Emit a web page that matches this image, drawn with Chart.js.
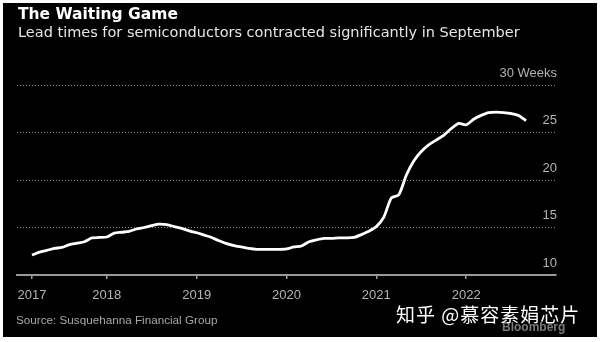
<!DOCTYPE html>
<html>
<head>
<meta charset="utf-8">
<script src="https://cdn.jsdelivr.net/npm/chart.js@4/dist/chart.umd.min.js"></script>
<style>
    html, body { margin: 0; padding: 0; background: #fff; }
</style>
</head>
<body>
<canvas id="leadCanvas" width="600" height="342"></canvas>
<script>
// Monthly observations, Mar 2017 - Sep 2022
const months = [
    'Mar 2017', 'Apr 2017', 'May 2017', 'Jun 2017', 'Jul 2017', 'Aug 2017', 'Sep 2017', 'Oct 2017', 'Nov 2017', 'Dec 2017',
    'Jan 2018', 'Feb 2018', 'Mar 2018', 'Apr 2018', 'May 2018', 'Jun 2018', 'Jul 2018', 'Aug 2018', 'Sep 2018', 'Oct 2018', 'Nov 2018', 'Dec 2018',
    'Jan 2019', 'Feb 2019', 'Mar 2019', 'Apr 2019', 'May 2019', 'Jun 2019', 'Jul 2019', 'Aug 2019', 'Sep 2019', 'Oct 2019', 'Nov 2019', 'Dec 2019',
    'Jan 2020', 'Feb 2020', 'Mar 2020', 'Apr 2020', 'May 2020', 'Jun 2020', 'Jul 2020', 'Aug 2020', 'Sep 2020', 'Oct 2020', 'Nov 2020', 'Dec 2020',
    'Jan 2021', 'Feb 2021', 'Mar 2021', 'Apr 2021', 'May 2021', 'Jun 2021', 'Jul 2021', 'Aug 2021', 'Sep 2021', 'Oct 2021', 'Nov 2021', 'Dec 2021',
    'Jan 2022', 'Feb 2022', 'Mar 2022', 'Apr 2022', 'May 2022', 'Jun 2022', 'Jul 2022', 'Aug 2022', 'Sep 2022'
];
// lead times in weeks
const leadTimes = [
    12.1, 12.4, 12.6, 12.8, 12.9, 13.2, 13.35, 13.5, 13.9, 13.95,
    14.0, 14.4, 14.5, 14.6, 14.85, 15.0, 15.2, 15.35, 15.3, 15.1, 14.9, 14.65,
    14.45, 14.2, 13.95, 13.6, 13.3, 13.1, 12.95, 12.8, 12.7, 12.7, 12.7, 12.7,
    12.75, 12.95, 13.05, 13.5, 13.7, 13.85, 13.85, 13.9, 13.9, 13.95, 14.25, 14.6,
    15.1, 16.1, 18.1, 18.45, 20.5, 22.0, 23.0, 23.7, 24.2, 24.7, 25.4, 25.95,
    25.8, 26.4, 26.8, 27.1, 27.15, 27.1, 27.0, 26.8, 26.25
];
// where the year ticks sit and what they read
const yearTickMonths = ['Mar 2017', 'Jan 2018', 'Jan 2019', 'Jan 2020', 'Jan 2021', 'Jan 2022'];
const yearLabels = ['2017', '2018', '2019', '2020', '2021', '2022'];
const weekTicks = [10, 15, 20, 25, 30];

const yearTickPos = yearTickMonths.map(m => months.indexOf(m));
const points = leadTimes.map((v, i) => ({ x: i, y: v }));

const axisFont = { family: 'Liberation Sans', size: 13 };

// black panel with white frame, plus the texts around the plot
const framePlugin = {
    id: 'frame',
    beforeDraw(chart) {
        const c = chart.ctx;
        c.save();
        c.fillStyle = '#fff';
        c.fillRect(0, 0, chart.width, chart.height);
        c.fillStyle = '#000';
        c.fillRect(3, 3, 594, 334);
        c.restore();
    },
    afterDraw(chart) {
        const c = chart.ctx;
        c.save();
        c.textBaseline = 'alphabetic';
        c.textAlign = 'left';
        c.fillStyle = '#fff';
        c.font = 'bold 15.5px "DejaVu Sans"';
        c.fillText('The Waiting Game', 18, 19);
        c.fillStyle = '#e6e6e6';
        c.font = '14.5px "DejaVu Sans"';
        c.fillText('Lead times for semiconductors contracted significantly in September', 18, 37);
        c.fillStyle = '#a8a8a8';
        c.font = '11.7px "Liberation Sans"';
        c.fillText('Source: Susquehanna Financial Group', 16, 324);
        // watermark
        c.fillStyle = '#7a7a7a';
        c.font = 'bold 12px "Liberation Sans"';
        c.fillText('Bloomberg', 502, 331);
        c.fillStyle = '#fff';
        c.font = '19px "Noto Sans CJK SC"';
        c.letterSpacing = '1px';
        c.fillText('知乎 @慕容素娟芯片', 396, 322);
        c.restore();
    }
};

const ctx = document.getElementById('leadCanvas').getContext('2d');
const leadChart = new Chart(ctx, {
    type: 'line',
    data: {
        datasets: [{
            label: 'Lead time (weeks)',
            data: points,
            borderColor: '#ffffff',
            borderWidth: 2.8,
            pointRadius: 0,
            tension: 0.25,
            fill: false
        }]
    },
    options: {
        responsive: false,
        animation: false,
        layout: { padding: { left: 17, right: 42, top: 85, bottom: 29.4 } },
        plugins: {
            legend: { display: false },
            tooltip: { enabled: false }
        },
        scales: {
            x: {
                type: 'linear',
                min: -2,
                max: 70,
                afterBuildTicks: scale => {
                    scale.ticks = yearTickPos.map(v => ({ value: v }));
                },
                grid: { drawOnChartArea: false, drawTicks: true, tickLength: 4, color: '#9a9a9a', lineWidth: 1.5 },
                border: { color: '#9a9a9a', width: 2 },
                ticks: {
                    color: '#b4b4b4',
                    font: axisFont,
                    padding: 9,
                    maxRotation: 0,
                    autoSkip: false,
                    callback: value => yearLabels[yearTickPos.indexOf(value)]
                }
            },
            y: {
                position: 'right',
                min: 10,
                max: 30,
                afterBuildTicks: scale => {
                    scale.ticks = weekTicks.map(v => ({ value: v }));
                },
                grid: { drawTicks: false, color: '#8a8a8a', lineWidth: 1 },
                border: { display: false, dash: [1, 2] },
                ticks: {
                    mirror: true,
                    padding: 1,
                    labelOffset: -12,
                    color: '#b4b4b4',
                    font: axisFont,
                    callback: value => value === 30 ? '30 Weeks' : value
                }
            }
        }
    },
    plugins: [framePlugin]
});
</script>
</body>
</html>
